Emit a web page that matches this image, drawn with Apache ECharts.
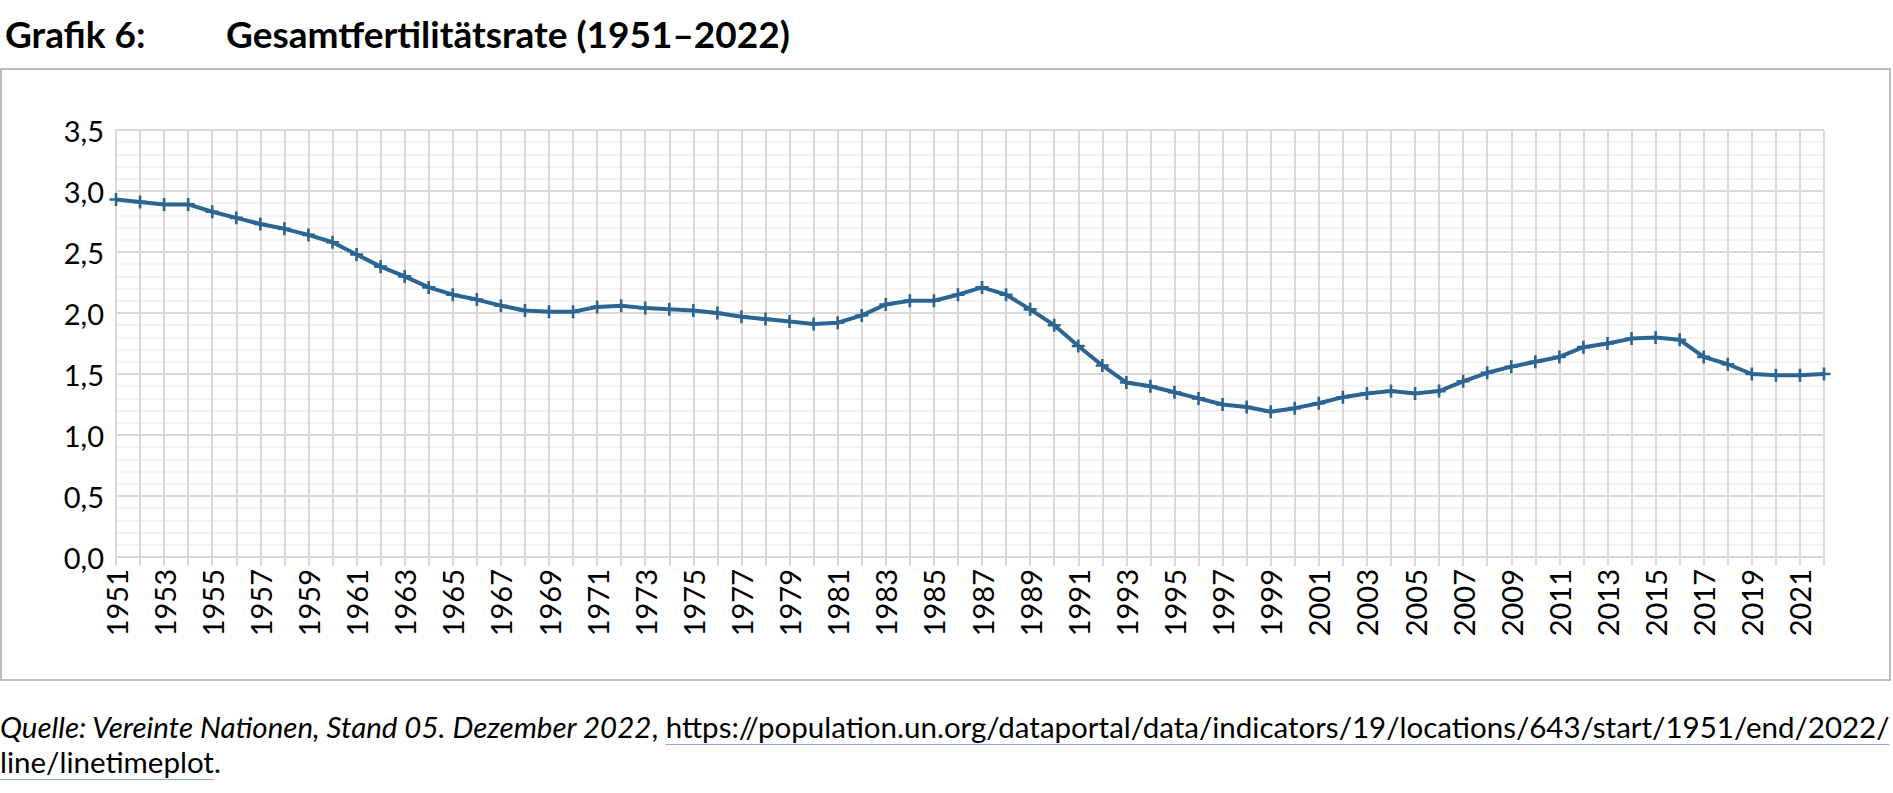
<!DOCTYPE html>
<html>
<head>
<meta charset="utf-8">
<script src="https://cdn.jsdelivr.net/npm/echarts@6/dist/echarts.min.js"></script>
<style>
  html, body { margin: 0; padding: 0; background: #fff; }
  #wrap { position: relative; width: 1893px; height: 793px; overflow: hidden; }
  #chart { position: absolute; left: 0; top: 0; width: 1893px; height: 793px; }
  #source { position: absolute; left: 0; top: 709px; font-family: Lato, "Noto Sans", sans-serif; font-size: 29.5px; line-height: 35px; color: #000; white-space: nowrap; }
  #source i { font-style: italic; }
  #source a { color: #000; text-decoration: underline; text-decoration-color: #8eaad8; text-underline-offset: 6px; text-decoration-thickness: 1px; }
</style>
</head>
<body>
<div id="wrap">
  <div id="chart"></div>
  <div id="source"><i>Quelle: Vereinte Nationen, Stand 05. Dezember 2022</i>, <a>https://population.un.org/dataportal/data/indicators/19/locations/643/start/1951/end/2022/</a><br><a>line/linetimeplot</a>.</div>
</div>
<script>
const titleText = 'Grafik 6:';
const titleMain = 'Gesamtfertilitätsrate (1951–2022)';

const years = [
  '1951','1952','1953','1954','1955','1956','1957','1958','1959','1960',
  '1961','1962','1963','1964','1965','1966','1967','1968','1969','1970',
  '1971','1972','1973','1974','1975','1976','1977','1978','1979','1980',
  '1981','1982','1983','1984','1985','1986','1987','1988','1989','1990',
  '1991','1992','1993','1994','1995','1996','1997','1998','1999','2000',
  '2001','2002','2003','2004','2005','2006','2007','2008','2009','2010',
  '2011','2012','2013','2014','2015','2016','2017','2018','2019','2020',
  '2021','2022'
];

const fertility = [
  2.93, 2.91, 2.89, 2.89, 2.83, 2.78, 2.73, 2.69, 2.64, 2.58,
  2.48, 2.38, 2.30, 2.21, 2.15, 2.11, 2.06, 2.02, 2.01, 2.01,
  2.05, 2.06, 2.04, 2.03, 2.02, 2.00, 1.97, 1.95, 1.93, 1.91,
  1.92, 1.98, 2.07, 2.10, 2.10, 2.15, 2.21, 2.15, 2.03, 1.90,
  1.73, 1.57, 1.43, 1.40, 1.35, 1.30, 1.25, 1.23, 1.19, 1.22,
  1.26, 1.31, 1.34, 1.36, 1.34, 1.36, 1.44, 1.51, 1.56, 1.60,
  1.64, 1.72, 1.75, 1.79, 1.80, 1.78, 1.64, 1.58, 1.50, 1.49,
  1.49, 1.50
];

const yMin = 0, yMax = 3.5, yStep = 0.5;

const chart = echarts.init(document.getElementById('chart'), null, { renderer: 'svg' });
const plusPath = 'path://M4,0 L6,0 L6,4 L10,4 L10,6 L6,6 L6,10 L4,10 L4,6 L0,6 L0,4 L4,4 Z';

chart.setOption({
  animation: false,
  textStyle: { fontFamily: 'Lato, "Noto Sans", sans-serif' },
  title: {
    text: '{a|' + titleText + '}{b|' + titleMain + '}',
    left: 0, top: 10,
    textStyle: {
      rich: {
        a: { fontFamily: 'Lato', fontWeight: 'bold', fontSize: 37, color: '#000', width: 221 },
        b: { fontFamily: 'Lato', fontWeight: 'bold', fontSize: 37, color: '#000' }
      }
    }
  },
  graphic: [{
    type: 'rect', z: -10,
    shape: { x: 1, y: 69, width: 1889, height: 611 },
    style: { fill: '#fff', stroke: '#a6a6a6', lineWidth: 1.5 }
  }],
  grid: { left: 116, right: 69, top: 130, bottom: 236, containLabel: false },
  xAxis: {
    type: 'category',
    data: years,
    boundaryGap: false,
    axisLine: { show: true, lineStyle: { color: '#d9d9d9', width: 2 } },
    axisTick: { show: true, interval: 0, length: 9, lineStyle: { color: '#d9d9d9', width: 2 } },
    axisLabel: { interval: 1, rotate: 90, margin: 12, fontSize: 29, color: '#000', fontFamily: 'Lato' },
    splitLine: { show: true, interval: 0, lineStyle: { color: '#d9d9d9', width: 2 } }
  },
  yAxis: {
    type: 'value',
    min: yMin, max: yMax, interval: yStep,
    axisLine: { show: false },
    axisTick: { show: false },
    axisLabel: { margin: 12, fontSize: 29, color: '#000', fontFamily: 'Lato',
      formatter: v => v.toFixed(1).replace('.', ',') },
    splitLine: { show: true, lineStyle: { color: '#d9d9d9', width: 2 } },
    minorTick: { show: false, splitNumber: 5 },
    minorSplitLine: { show: true, lineStyle: { color: '#efefef', width: 1.5 } }
  },
  series: [{
    type: 'line',
    data: fertility,
    showSymbol: true,
    symbol: plusPath,
    symbolSize: 13,
    itemStyle: { color: '#2c6592' },
    lineStyle: { color: '#2c6592', width: 4 },
    z: 5
  }]
});
</script>
</body>
</html>
